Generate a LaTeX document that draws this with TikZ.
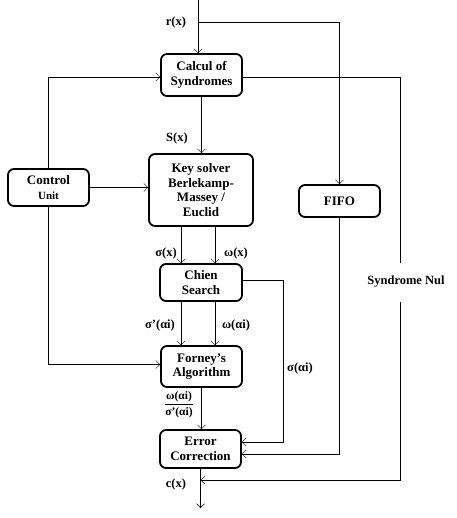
\documentclass[tikz,border=0pt]{standalone}
\usepackage{fontspec}
\setmainfont{Liberation Serif}
\usepackage{amsmath}
\usetikzlibrary{arrows.meta}

\begin{document}
\begin{tikzpicture}[x = 1pt, y = -1pt, >={Straight Barb[length=4pt, width=8pt]},
	block/.style = {draw, line width = 1.8pt, rounded corners = 6pt, align = center, inner sep = 2pt, font = \fontsize{13}{14.5}\selectfont\bfseries},
	lbl/.style = {font = \fontsize{12.5}{14}\selectfont\bfseries, inner sep = 1pt}]
		\useasboundingbox (0, 0) rectangle (456, 518);
		%%%%%%%%%%%%%
		\node[block, minimum width = 81, minimum height = 42] (calc) at (201.5, 75) {Calcul of\\Syndromes};
		\node[block, minimum width = 104, minimum height = 72] (key) at (201, 190) {Key solver\\Berlekamp-\\Massey /\\Euclid};
		\node[block, minimum width = 81, minimum height = 37] (ctrl) at (48.5, 187.5) {Control\\{\fontsize{11}{12}\selectfont Unit}};
		\node[block, minimum width = 81, minimum height = 32] (fifo) at (339.5, 201) {FIFO};
		\node[block, minimum width = 82, minimum height = 37] (chien) at (201, 282.5) {Chien\\Search};
		\node[block, minimum width = 81, minimum height = 41] (forney) at (201.5, 366.5) {Forney’s\\Algorithm};
		\node[block, minimum width = 81, minimum height = 38] (err) at (200.5, 449) {Error\\Correction};
		%%%%%%%%%%%%%
		\node[lbl] (rx) at (176, 22) {r(x)};
		\node[lbl] (sx) at (177, 138) {S(x)};
		\node[lbl] (sigx) at (166, 253) {σ(x)};
		\node[lbl] (omx) at (236, 253) {ω(x)};
		\node[lbl] (sigd) at (160, 325) {σ’(αi)};
		\node[lbl] (omai) at (236, 325) {ω(αi)};
		\node[lbl] (sigai) at (300, 368) {σ(αi)};
		\node[lbl, font = \fontsize{11.5}{13}\selectfont\bfseries] (fracl) at (179, 405) {$\dfrac{\text{ω(αi)}}{\text{σ’(αi)}}$};
		\node[lbl] (cx) at (176, 484) {c(x)};
		\node[lbl] (snul) at (406, 282) {Syndrome Nul};
		%%%%%%%%%%%%%
		\coordinate (in) at (198, 0);
		\coordinate (rsplit) at (198, 22);
		\coordinate (sntop) at (400, 263);
		\coordinate (snbot) at (400, 302);
		\coordinate (sturn) at (283, 442);
		\coordinate (cjoin) at (200.5, 480);
		\coordinate (out) at (200.5, 508);
		%%%%%%%%%%%%%
		\draw[->] (in) -- (in |- calc.north);
		\draw[->] (rsplit) -| (fifo.north);
		\draw ([yshift=-2]calc.east) -| (sntop);
		\draw[->] (snbot) |- (cjoin);
		\draw[->] (calc.south) -- (calc.south |- key.north);
		\draw[->] (ctrl.north) |- ([yshift=-2]calc.west);
		\draw[->] (ctrl.east) -- (ctrl.east -| key.west);
		\draw[->] (ctrl.south) |- ([yshift=2]forney.west);
		\draw[->] ([xshift=-20]key.south) -- ([xshift=-20]key.south |- chien.north);
		\draw[->] ([xshift=14]key.south) -- ([xshift=14]key.south |- chien.north);
		\draw[->] ([xshift=-20]chien.south) -- ([xshift=-20]chien.south |- forney.north);
		\draw[->] ([xshift=14]chien.south) -- ([xshift=14]chien.south |- forney.north);
		\draw[->] ([yshift=2]chien.east) -| (sturn) -- (sturn -| err.east);
		\draw[->] (fifo.south) |- ([yshift=-5]err.east);
		\draw[->] (forney.south) -- (forney.south |- err.north);
		\draw[->] (err.south) -- (out);
\end{tikzpicture}
\end{document}
